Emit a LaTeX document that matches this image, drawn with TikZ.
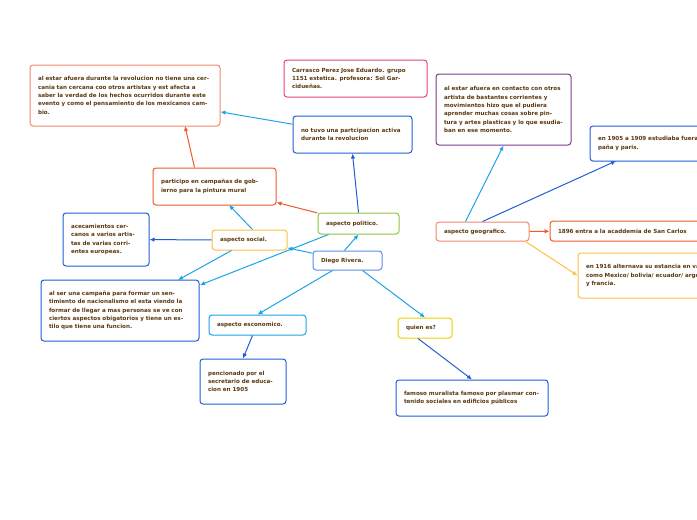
\documentclass[tikz,border=0pt]{standalone}
\usepackage{fontspec}
\setmainfont{DejaVu Sans}
\usetikzlibrary{arrows.meta}
\definecolor{txt}{HTML}{5A3A10}
\definecolor{cor}{HTML}{F5866A}
\definecolor{ored}{HTML}{F05A28}
\definecolor{pnk}{HTML}{E8407F}
\definecolor{dblue}{HTML}{1F5FD6}
\definecolor{lblue}{HTML}{1AA3E8}
\definecolor{mblue}{HTML}{5B8FE6}
\definecolor{grn}{HTML}{8CC63F}
\definecolor{yel}{HTML}{FBBF44}
\definecolor{yel2}{HTML}{EED000}
\definecolor{prp}{HTML}{7B3B8F}
\tikzset{
  box/.style={draw, line width=1pt, rounded corners=3pt, fill=white, align=left, inner xsep=8pt, inner ysep=2pt,
    font=\fontsize{5.6}{8.3}\selectfont\bfseries, text=txt},
  ar/.style={line width=1pt, -{Latex[length=5pt,width=4.5pt]}}
}
\newcommand\bx[7]{\pgfmathsetmacro\bw{#5-#3}\pgfmathsetmacro\bh{#6-#4}\pgfmathsetmacro\tw{#5-#3-16}\node[box,draw=#2,minimum width=\bw pt,minimum height=\bh pt,text width=\tw pt] (#1) at ({(#3+#5)/2},{(#4+#6)/2}) {#7};}
\begin{document}
\begin{tikzpicture}[x=1pt,y=-1pt]
\useasboundingbox (0,0) rectangle (697,520);
\bx{a}{cor}{30}{65}{220}{126}{al estar afuera durante la revolucion no tiene una cercania tan cercana coo otros artistas y est afecta a saber la verdad de los hechos ocurridos durante este evento y como el pensamiento de los mexicanos cambio.}
\bx{car}{pnk}{284}{60}{427}{97}{Carrasco Perez Jose Eduardo. grupo 1151 estetica. profesora: Sol Garcidueñas.}
\bx{not}{dblue}{293}{116}{412}{153}{no tuvo una partcipacion activa durante la revolucion}
\bx{par}{ored}{153}{168}{276}{205}{participo en campañas de gobierno para la pintura mural}
\bx{pol}{grn}{318}{213}{399}{234}{aspecto politico.}
\bx{ace}{dblue}{63}{213}{149}{266}{acecamientos cercanos a varios artistas de varias corrientes europeas.}
\bx{soc}{yel}{212}{230}{287}{250}{aspecto social.}
\bx{die}{mblue}{313}{251}{382}{270}{Diego Rivera.}
\bx{ser}{dblue}{41}{280}{199}{341}{al ser una campaña para formar un sentimiento de nacionalismo el esta viendo la formar de llegar a mas personas se ve con ciertos aspectos obigatorios y tiene un estilo que tiene una funcion.}
\bx{eco}{lblue}{209}{315}{306}{335}{aspecto esconomico.}
\bx{qui}{yel2}{398}{318}{452}{338}{quien es?}
\bx{pen}{dblue}{200}{359}{286}{404}{pencionado por el secretario de educacion en 1905}
\bx{fam}{dblue}{396}{380}{548}{416}{famoso muralista famoso por plasmar contenido sociales en edificios públicos}
\bx{con}{prp}{436}{74}{571}{145}{al estar afuera en contacto con otros artista de bastantes corrientes y movimientos hizo que el pudiera aprender muchas cosas sobre pintura y artes plasticas y lo que esudiaban en ese momento.}
\bx{e05}{dblue}{590}{126}{760}{161}{en 1905 a 1909 estudiaba fuera del pais en españa y paris.}
\bx{geo}{cor}{436}{222}{529}{241}{aspecto geografico.}
\bx{e96}{ored}{550}{221}{760}{241}{1896 entra a la acaddemia de San Carlos}
\bx{e16}{yel}{578}{253}{760}{298}{en 1916 alternava su estancia en varios paises como Mexico/ bolivia/ ecuador/ argentina/ españa y francia.}
\coordinate (pa) at (185,126);
\coordinate (sp) at (229,205);
\coordinate (s1) at (178,280);
\coordinate (s2) at (200,285);
\coordinate (g5) at (616,161);
\draw[ar,lblue] (not) -- (a);
\draw[ar,ored] ([xshift=42pt]par.north west) -- (pa);
\draw[ar,ored] (pol) -- (par);
\draw[ar,dblue] (pol.north) -- (not.south);
\draw[ar,lblue] ([xshift=3pt]soc.north) -- (sp);
\draw[ar,dblue] (soc) -- (ace);
\draw[ar,lblue] ([xshift=20pt]soc.south west) -- (s1);
\draw[ar,lblue] ([xshift=11pt]pol.south west) -- (s2);
\draw[ar,lblue] (die) -- (soc);
\draw[ar,lblue] ([xshift=-3pt]die.north) -- (pol.south);
\draw[ar,lblue] ([xshift=20pt]die.south west) -- (eco.north);
\draw[ar,lblue] ([xshift=-20pt]die.south east) -- (qui.north);
\draw[ar,dblue] ([xshift=-5pt]eco.south) -- (pen.north);
\draw[ar,dblue] ([xshift=-7pt]qui.south) -- (fam.north);
\draw[ar,lblue] ([xshift=-17pt]geo.north) -- (con.south);
\draw[ar,dblue] (geo.north) -- (g5);
\draw[ar,ored] (geo) -- (e96);
\draw[ar,yel] ([xshift=-4pt]geo.south east) -- (e16.west);
\end{tikzpicture}
\end{document}
